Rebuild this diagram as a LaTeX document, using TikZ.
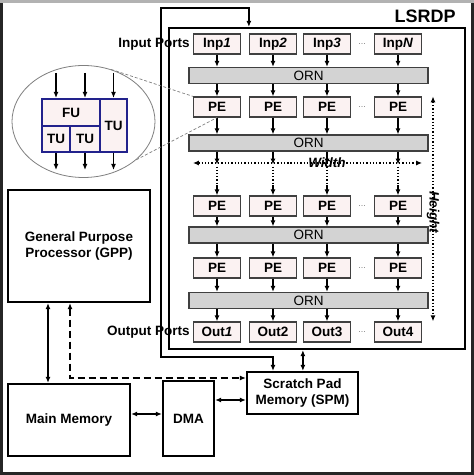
\documentclass[tikz,border=0pt]{standalone}
\usepackage{fontspec}
\setmainfont{Liberation Sans}
\usetikzlibrary{shapes,arrows.meta}
\definecolor{pinkbox}{HTML}{FBF2F2}
\definecolor{ornfill}{HTML}{D3D3D3}
\definecolor{navy}{HTML}{22228C}
\newcommand{\boxfont}{\fontsize{13.5bp}{15.5bp}\selectfont}

\begin{document}
\begin{tikzpicture}[x=1bp,y=-1bp]
  \tikzstyle{arr}=[-{Latex[length=6bp,width=5bp]},line width=1.3bp]
  \tikzstyle{dbl}=[{Latex[length=6bp,width=5bp]}-{Latex[length=6bp,width=5bp]},line width=1.3bp]
  \tikzstyle{port}=[draw=black!75,line width=1.2bp,fill=pinkbox,minimum width=47bp,minimum height=20bp,inner sep=0pt,font=\boxfont\bfseries]
  \tikzstyle{orn}=[draw=black!75,line width=1.2bp,fill=ornfill,minimum width=239bp,minimum height=16bp,inner sep=0pt,font=\boxfont]
  \tikzstyle{blk}=[draw,line width=2.2bp,align=center,inner sep=0pt,font=\boxfont\bfseries]
  \tikzstyle{unit}=[draw=navy,line width=2bp,fill=pinkbox,inner sep=0pt,font=\boxfont\bfseries]
  \tikzstyle{dots}=[text=gray,font=\fontsize{9bp}{10bp}\selectfont]
  \tikzstyle{lbl}=[font=\boxfont\bfseries]
% frame and page size
  \useasboundingbox (0,0) rectangle (474,475);
  \fill[black!85] (0,0) rectangle (474,475);
  \fill[white] (3,3) rectangle (471,472);
  \fill[black!30] (0,0) rectangle (474,3);
% the array
  \node[draw,line width=2.2bp,minimum width=296bp,minimum height=321bp] (lsrdp) at (317,188.5) {};
  \node[font=\fontsize{18bp}{20bp}\selectfont\bfseries] (lsrdplbl) at (425,16) {LSRDP};
  \foreach \i/\x/\t in {1/217/1,2/273/2,3/327/3,4/398/N}{
    \node[port] (inp\i) at (\x,44)  {Inp\textit{\t}};
    \node[port] (pe1\i) at (\x,107) {PE};
    \node[port] (pe2\i) at (\x,206) {PE};
    \node[port] (pe3\i) at (\x,268) {PE};
  }
  \foreach \i/\x/\t in {1/217/{Out\textit{1}},2/273/Out2,3/327/Out3,4/398/Out4}
    \node[port] (out\i) at (\x,332) {\t};
  \node[orn] (orn1) at (308.5,75.5)  {ORN};
  \node[orn] (orn2) at (308.5,143)   {ORN};
  \node[orn] (orn3) at (308.5,235)   {ORN};
  \node[orn] (orn4) at (308.5,300.5) {ORN};
  \foreach \y in {44,107,206,268,332}
    \node[dots] at (362,\y) {...};
  \node[lbl,anchor=east,inner sep=3pt] (inlbl) at (inp1.west) {Input Ports};
  \node[lbl,anchor=east,inner sep=3pt] (outlbl) at (out1.west) {Output Ports};
  \foreach \i in {1,...,4}{
    \draw[arr] (inp\i.south) -- (inp\i |- orn1.north);
    \draw[arr] (orn1.south -| pe1\i) -- (pe1\i.north);
    \draw[arr] (pe1\i.south) -- (pe1\i |- orn2.north);
    \draw[arr] (orn2.south -| pe2\i) -- ++(0,13);
    \draw[dotted,line width=1.2bp] (orn2.south -| pe2\i) ++(0,15) -- ++(0,21);
    \draw[arr] (pe2\i.north) ++(0,-10) -- (pe2\i.north);
    \draw[arr] (pe2\i.south) -- (pe2\i |- orn3.north);
    \draw[arr] (orn3.south -| pe3\i) -- (pe3\i.north);
    \draw[arr] (pe3\i.south) -- (pe3\i |- orn4.north);
    \draw[arr] (orn4.south -| out\i) -- (out\i.north);
  }
% width and height
  \draw[dbl,dotted,line width=1.2bp] (pe11.west |- 0,163) -- (pe14.east |- 0,163) coordinate (wend);
  \node[lbl,font=\boxfont\bfseries\itshape] (wlbl) at (327,163) {Width};
  \draw[dbl,dotted,line width=1.2bp] (pe14.north -| 433,0) -- (out4.north -| 433,0);
  \node[lbl,font=\boxfont\bfseries\itshape,rotate=-90] (hlbl) at (433,212) {Height};
% the rest of the system
  \node[blk,minimum width=142bp,minimum height=112bp] (gpp) at (79,246) {General Purpose\\Processor (GPP)};
  \node[blk,minimum width=122bp,minimum height=72bp] (mm) at (69,420) {Main Memory};
  \node[blk,minimum width=51bp,minimum height=75bp] (dma) at (188.5,418.5) {DMA};
  \node[blk,minimum width=111bp,minimum height=42bp] (spm) at (302.5,393) {Scratch Pad\\Memory (SPM)};
  \draw[dbl] (lsrdp.north -| inp2.west) |- (161,8) -- (161,357) -| (spm.north -| inp2);
  \draw[dbl] (lsrdp.south -| inp3.west) -- (spm.north -| inp3.west);
  \draw[dbl] (gpp.south -| 48,0) -- (mm.north -| 48,0);
  \draw[dbl,dash pattern=on 7bp off 4bp] (gpp.south -| 70,0) |- (spm.west |- 0,378);
  \draw[dbl] (mm.east |- 0,414) -- (dma.west |- 0,414);
  \draw[dbl] (dma.east |- 0,400) -- (spm.west |- 0,400);
% zoom into one PE
  \node[draw=gray,ellipse,line width=0.8bp,minimum width=143bp,minimum height=112bp] (zoom) at (83.5,121.5) {};
  \node[unit,minimum width=58bp,minimum height=27bp] (fu)  at (71,112.5)  {FU};
  \node[unit,minimum width=28bp,minimum height=26bp] (tu1) at (56,139)    {TU};
  \node[unit,minimum width=30bp,minimum height=26bp] (tu2) at (85,139)    {TU};
  \node[unit,minimum width=27bp,minimum height=53bp] (tu3) at (113.5,125.5) {TU};
  \draw[arr] (tu1 |- 0,73) -- (tu1 |- fu.north);
  \draw[arr] (tu2 |- 0,73) -- (tu2 |- fu.north);
  \draw[arr] (tu3 |- 0,73) -- (tu3.north);
  \foreach \u in {tu1,tu2,tu3}
    \draw[arr] (\u.south) -- (\u |- 0,170);
  \draw[gray,line width=0.7bp,densely dashed] (zoom.62) -- (pe11.north west);
  \draw[gray,line width=0.7bp,densely dashed] (zoom.-36) -- (pe11.south);
\end{tikzpicture}
\end{document}
